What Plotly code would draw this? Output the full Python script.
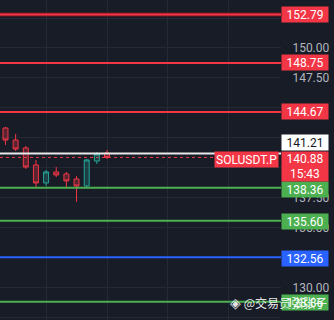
import plotly.graph_objects as go

# Candle data (index, OHLC)
idx = list(range(11))
opens = [143.33, 142.33, 141.67, 140.25, 138.75, 139.67, 139.50, 139.08, 138.50, 140.58, 141.25]
highs = [143.42, 142.83, 141.83, 140.67, 139.83, 140.08, 139.67, 139.33, 140.75, 141.33, 141.50]
lows = [141.92, 141.42, 139.92, 138.42, 138.50, 139.25, 138.42, 137.17, 138.42, 140.33, 140.75]
closes = [142.33, 141.58, 140.08, 138.75, 139.67, 139.42, 138.92, 138.50, 140.67, 141.17, 140.88]

# Horizontal levels
levels = [152.79, 148.75, 144.67, 138.36, 135.60, 132.56, 128.86]
level_colors = ["#f23645", "#f23645", "#f23645", "#4caf50", "#4caf50", "#2962ff", "#4caf50"]
level_shift = [0, 0, 0, -2, -1, -1, -1]

white_level = 141.21
last_price = 140.88
last_time = "15:43"
symbol = "SOLUSDT.P"

tick_vals = [127.5, 130.0, 132.5, 135.0, 137.5, 140.0, 142.5, 145.0, 147.5, 150.0, 152.5]
hidden_ticks = [132.5, 140.0, 142.5, 145.0, 152.5]  # covered by price labels
tick_text = ["" if v in hidden_ticks else f"{v:.2f}" for v in tick_vals]
time_grid = [4, 10, 16, 22]

BG = "#181c27"
RED = "#f23645"
GREEN_C = "#26a69a"

fig = go.Figure()
fig.add_trace(go.Candlestick(
    x=idx, open=opens, high=highs, low=lows, close=closes,
    increasing=dict(line=dict(color=GREEN_C, width=1), fillcolor="rgba(38,166,154,0.25)"),
    decreasing=dict(line=dict(color=RED, width=1), fillcolor="rgba(242,54,69,0.3)"),
    whiskerwidth=0, showlegend=False, hoverinfo="skip",
))

shapes = []
shapes.append(dict(type="line", xref="paper", x0=0, x1=0.78, yref="y", y0=last_price, y1=last_price,
                   line=dict(color=RED, width=1, dash="dot"), layer="below"))
shapes.append(dict(type="line", xref="paper", x0=0, x1=1, yref="y", y0=white_level, y1=white_level,
                   line=dict(color="#e8e8e8", width=2), layer="above"))
for i, (lv, c) in enumerate(zip(levels, level_colors)):
    if i == 0:
        shapes.append(dict(type="line", xref="paper", x0=0, x1=1, yref="y", y0=lv, y1=lv,
                           line=dict(color="#7a1520", width=4), layer="above"))
    shapes.append(dict(type="line", xref="paper", x0=0, x1=1, yref="y", y0=lv, y1=lv,
                       line=dict(color=c, width=2), layer="above"))

annotations = []
FONT = "Roboto"
for lv, c, sh in zip(levels, level_colors, level_shift):
    annotations.append(dict(xref="paper", x=1.0, xanchor="left", yref="y", y=lv, yanchor="middle",
                            yshift=sh, text=f"{lv:.2f}", showarrow=False, bgcolor=c,
                            font=dict(color="white", size=12, family=FONT), width=44, height=13,
                            borderpad=1, align="center"))
annotations.append(dict(xref="paper", x=1.0, xanchor="left", yref="y", y=white_level, yanchor="middle",
                        yshift=11, text=f"{white_level:.2f}", showarrow=False, bgcolor="#ffffff",
                        font=dict(color="#131722", size=12, family=FONT), width=44, height=13,
                        borderpad=1, align="center"))
annotations.append(dict(xref="paper", x=1.0, xanchor="left", yref="y", y=last_price, yanchor="middle",
                        yshift=-9, text=f"{last_price:.2f}<br>{last_time}", showarrow=False, bgcolor=RED,
                        font=dict(color="white", size=12, family=FONT), width=44, height=27,
                        borderpad=1, align="center"))
annotations.append(dict(xref="paper", x=0.993, xanchor="right", yref="y", y=last_price, yanchor="middle",
                        yshift=-2, text=symbol, showarrow=False, bgcolor=RED,
                        font=dict(color="white", size=12, family=FONT), height=13,
                        borderpad=1, align="center"))
annotations.append(dict(xref="paper", x=1.172, xanchor="right", yref="paper", y=0.057, yanchor="middle",
                        text="<span style='font-size:14px'>◈</span> @交易员张张子", showarrow=False,
                        font=dict(color="rgba(255,255,255,0.9)", size=12, family="Noto Sans CJK SC")))

fig.update_layout(
    width=334, height=320,
    margin=dict(l=0, r=53, t=0, b=0),
    paper_bgcolor=BG, plot_bgcolor=BG,
    shapes=shapes, annotations=annotations,
    xaxis=dict(range=[-0.54, 27.14], tickvals=time_grid, showticklabels=False,
               showgrid=True, gridcolor="#252936", gridwidth=1, zeroline=False,
               rangeslider=dict(visible=False), showline=False, fixedrange=True),
    yaxis=dict(range=[127.33, 154.0], side="right", tickvals=tick_vals, ticktext=tick_text,
               showgrid=True, gridcolor="#252936", gridwidth=1, zeroline=False,
               ticks="outside", ticklen=8, tickcolor="rgba(0,0,0,0)",
               tickfont=dict(color="#b2b5be", size=12, family=FONT), showline=False),
)

fig.write_html("out.html")
